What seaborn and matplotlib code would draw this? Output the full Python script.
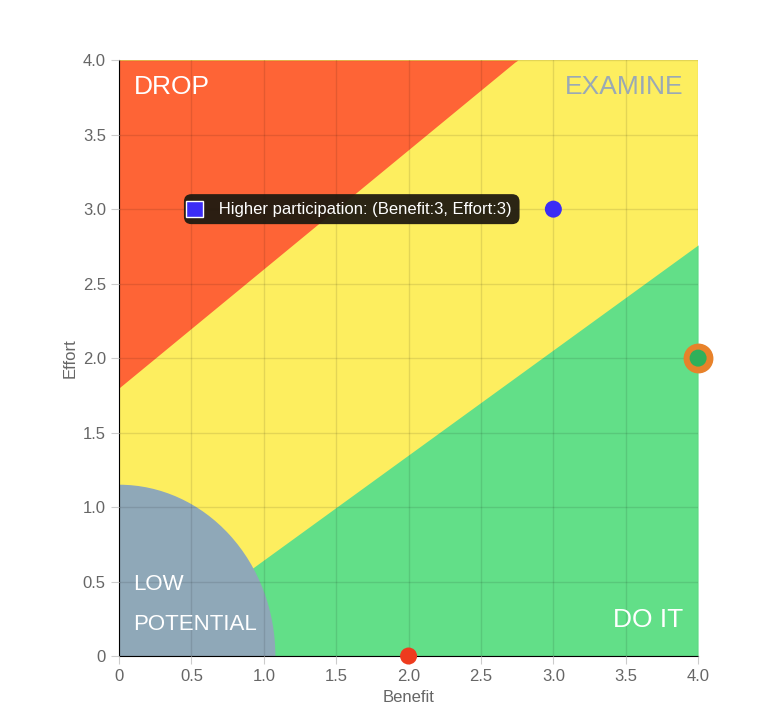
import numpy as np
import pandas as pd
import seaborn as sns
import matplotlib.pyplot as plt
from matplotlib.patches import Ellipse, Rectangle

# data
point_names = ["Higher participation", "Low item", "Edge item"]
benefit = [3, 2, 4]
effort = [3, 0, 2]
point_colors = ["#3b2cf5", "#ee3b1e", "#2fb05a"]
ticks = [0, 0.5, 1.0, 1.5, 2.0, 2.5, 3.0, 3.5, 4.0]
tick_labels = ["0", "0.5", "1.0", "1.5", "2.0", "2.5", "3.0", "3.5", "4.0"]

drop_line = (1.8, 0.80)      # intercept, slope
doit_line = (-0.06, 0.705)
low_radius = (1.08, 1.15)

sns.set_style("white")
plt.rcParams['font.family'] = ['Liberation Sans', 'DejaVu Sans']

fig = plt.figure(figsize=(7.68, 7.26), dpi=100)
ax = fig.add_axes([0.155, 0.0964, 0.754, 0.8207])

xs = np.linspace(0, 4, 200)
top = np.full_like(xs, 4.0)
bottom = np.zeros_like(xs)
drop_y = np.clip(drop_line[0] + drop_line[1] * xs, 0, 4)
doit_y = np.clip(doit_line[0] + doit_line[1] * xs, 0, 4)

ax.fill_between(xs, bottom, top, color="#fdee5f", lw=0, zorder=0)
ax.fill_between(xs, drop_y, top, color="#fe6436", lw=0, zorder=1)
ax.fill_between(xs, bottom, doit_y, color="#62df88", lw=0, zorder=1)
ax.add_patch(Ellipse((0, 0), 2 * low_radius[0], 2 * low_radius[1],
                     color="#8fa8b8", lw=0, zorder=2))

ax.set_xlim(0, 4)
ax.set_ylim(0, 4)
ax.set_xticks(ticks, tick_labels)
ax.set_yticks(ticks, tick_labels)
ax.grid(True, color="#000000", alpha=0.1, lw=1, zorder=3)
ax.set_axisbelow(False)
for s in ["top", "right"]:
    ax.spines[s].set_visible(False)
for s in ["left", "bottom"]:
    ax.spines[s].set_color("#000000")
ax.tick_params(colors="#666666", labelsize=12, length=6, left=True, bottom=True)
ax.tick_params(axis="both", color="#cccccc")
ax.set_xlabel("Benefit", color="#666666", fontsize=12)
ax.set_ylabel("Effort", color="#666666", fontsize=12)

ax.text(0.1, 3.82, "DROP", color="white", fontsize=19, va="center", zorder=4)
ax.text(3.9, 3.82, "EXAMINE", color="#9aa9b5", fontsize=19, va="center", ha="right", zorder=4)
ax.text(3.9, 0.24, "DO IT", color="white", fontsize=19, va="center", ha="right", zorder=4)
ax.text(0.1, 0.48, "LOW", color="white", fontsize=16, va="center", zorder=4)
ax.text(0.1, 0.21, "POTENTIAL", color="white", fontsize=16, va="center", zorder=4)

df = pd.DataFrame({"Benefit": benefit, "Effort": effort, "name": point_names})
ax.scatter([benefit[2]], [effort[2]], s=420, color="#e8822a", zorder=5, clip_on=False)
sns.scatterplot(data=df, x="Benefit", y="Effort", hue="name", palette=point_colors,
                s=150, edgecolor="none", legend=False, ax=ax, zorder=6, clip_on=False)
ax.set_xlabel("Benefit", color="#666666", fontsize=12)
ax.set_ylabel("Effort", color="#666666", fontsize=12)

# tooltip
ax.text(0.5, 3.0, "      Higher participation: (Benefit:3, Effort:3)", color="white",
        fontsize=12, va="center", zorder=7,
        bbox=dict(boxstyle="round,pad=0.45", fc="#1f1a10", ec="none", alpha=0.95))
ax.add_patch(Rectangle((0.46, 2.945), 0.12, 0.11, fc="#3b2cf5", ec="white",
                       lw=1, zorder=8))

fig.savefig("out.png", dpi=100)
